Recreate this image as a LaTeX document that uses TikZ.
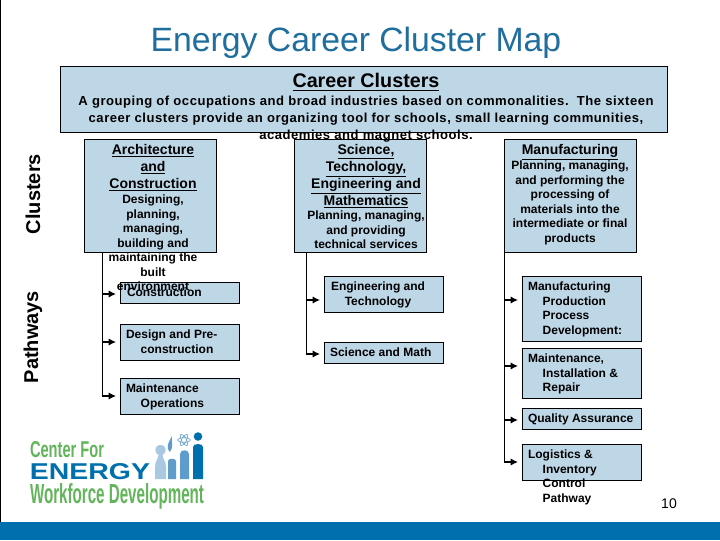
\documentclass[tikz,border=0pt]{standalone}
\usepackage{fontspec}
\usepackage{graphicx}
\setmainfont{Liberation Sans}
\newfontfamily\spacedfont[LetterSpace=4]{Liberation Sans}
\usetikzlibrary{arrows.meta}
\definecolor{boxblue}{HTML}{BDD7E7}
\definecolor{titleblue}{HTML}{1F6E9E}
\definecolor{bandblue}{HTML}{0070AD}
\definecolor{logogreen}{HTML}{62B55A}
\definecolor{logomid}{HTML}{5E9CCB}
\definecolor{logolight}{HTML}{A9C9E3}
\newcommand{\fbody}{\fontsize{9}{10.85}\selectfont\bfseries}
\newcommand{\fhead}{\fontsize{10.5}{12.75}\selectfont\bfseries}
\newcommand{\ind}{\hspace*{11pt}}
\tikzset{
  x=0.75pt,y=-0.75pt,
  bx/.style 2 args={draw=black,line width=0.75pt,fill=boxblue,inner sep=0pt,outer sep=0pt,minimum width=#1*0.75pt,minimum height=#2*0.75pt},
  txt/.style={inner sep=0pt,outer sep=0pt,text=black,font=\fbody},
  ctr/.style={txt,align=center,anchor=north},
  hdr/.style={txt,align=center,anchor=north,font=\fhead},
  lft/.style={txt,align=left,anchor=north west},
  trunk/.style={line width=0.75pt,draw=black},
  arr/.style={line width=1pt,draw=black,-{Latex[length=5.5pt,width=5.5pt]},shorten >=3pt},
  hl/.style={inner sep=0pt,outer sep=0pt,text=black}
}
\begin{document}
\begin{tikzpicture}
\useasboundingbox (0,0) rectangle (720,540);
\fill[white] (0,0) rectangle (720,540);
\fill[black] (0,0) rectangle (1,522);
\fill[bandblue] (0,522) rectangle (720,540);
% title
\node[hl,text=titleblue,font=\fontsize{25.3}{28}\selectfont] (title) at (356,42.5) {Energy Career Cluster Map};
% boxes
\node[bx={607}{66}] (top) at (363.5,99) {};
\node[bx={132}{113}] (arch) at (150.5,195.5) {};
\node[bx={132}{113}] (sci) at (360.5,195.5) {};
\node[bx={132}{113}] (manu) at (570.5,195.5) {};
\node[bx={119}{21}] (con) at (179.5,292.5) {};
\node[bx={119}{36}] (des) at (179.5,342) {};
\node[bx={119}{36}] (mai) at (179.5,396) {};
\node[bx={119}{36}] (eng) at (383.5,294) {};
\node[bx={119}{21}] (sm) at (383.5,352.5) {};
\node[bx={119}{65}] (mpp) at (581.5,308.5) {};
\node[bx={119}{50}] (mir) at (581.5,373) {};
\node[bx={119}{21}] (qa) at (581.5,418.5) {};
\node[bx={119}{36}] (log) at (581.5,462) {};
% connector anchors
\coordinate (a0) at (102,252);
\coordinate (a3) at (102,396);
\coordinate (s0) at (306,252);
\coordinate (s2) at (306,354);
\coordinate (m0) at (504.5,252);
\coordinate (m4) at (504.5,462);
\draw[trunk] (a0) -- (a3);
\draw[trunk] (s0) -- (s2);
\draw[trunk] (m0) -- (m4);
\coordinate (ac) at (101.5,294);
\coordinate (ad) at (101.5,342);
\coordinate (am) at (101.5,396);
\coordinate (se) at (305.5,300);
\coordinate (ss) at (305.5,354);
\coordinate (mp) at (504,300);
\coordinate (mi) at (503.5,366);
\coordinate (mq) at (503.5,420);
\coordinate (ml) at (503.5,462);
\draw[arr] (ac) -- (ac -| con.west);
\draw[arr] (ad) -- (ad -| des.west);
\draw[arr] (am) -- (am -| mai.west);
\draw[arr] (se) -- (se -| eng.west);
\draw[arr] (ss) -- (ss -| sm.west);
\draw[arr] (mp) -- (mp -| mpp.west);
\draw[arr] (mi) -- (mi -| mir.west);
\draw[arr] (mq) -- (mq -| qa.west);
\draw[arr] (ml) -- (ml -| log.west);
% top text
\node[hl,font=\fontsize{14.8}{17}\selectfont\bfseries] (toph) at (366,82) {\underline{Career Clusters}};
\node[ctr,font=\spacedfont\fontsize{9.8}{12.75}\selectfont\bfseries] (topt) at (366,96.5) {A grouping of occupations and broad industries based on commonalities.\ \ The sixteen\\career clusters provide an organizing tool for schools, small learning communities,\\academies and magnet schools.};
% cluster text
\node[hdr] (archh) at (153,144) {\underline{Architecture}\\\underline{and}\\\underline{Construction}};
\node[ctr] (archt) at (153,195) {Designing,\\planning,\\managing,\\building and\\maintaining the\\built\\environment};
\node[hdr] (scih) at (366,144) {\underline{Science,}\\\underline{Technology,}\\\underline{Engineering and}\\\underline{Mathematics}};
\node[ctr] (scit) at (366,211) {Planning, managing,\\and providing\\technical services};
\node[hdr] (manuh) at (570,144) {\underline{Manufacturing}};
\node[ctr] (manut) at (570,161) {Planning, managing,\\and performing the\\processing of\\materials into the\\intermediate or final\\products};
% pathway text
\node[lft] (cont) at (127,288) {Construction};
\node[lft] (dest) at (126,330) {Design and Pre-\\\ind construction};
\node[lft] (mait) at (126,384) {Maintenance\\\ind Operations};
\node[ctr] (engt) at (378,282) {Engineering and\\Technology};
\node[lft] (smt) at (330,348) {Science and Math};
\node[lft] (mppt) at (528,282) {Manufacturing\\\ind Production\\\ind Process\\\ind Development:};
\node[lft] (mirt) at (528,354) {Maintenance,\\\ind Installation \&\\\ind Repair};
\node[lft] (qat) at (528,414) {Quality Assurance};
\node[lft] (logt) at (528,450) {Logistics \&\\\ind Inventory\\\ind Control\\\ind Pathway};
% side labels
\node[hl,rotate=90,font=\fontsize{15}{18}\selectfont\bfseries] (clus) at (33,194) {Clusters};
\node[hl,rotate=90,font=\fontsize{15}{18}\selectfont\bfseries] (path) at (33,337) {Pathways};
\node[hl,font=\fontsize{10.5}{12}\selectfont] (pg) at (669,504) {10};
% logo
\node[hl,anchor=north west,text=logogreen] (l1) at (30,441.5) {\resizebox{55.5pt}{12pt}{\bfseries Center For}};
\node[hl,anchor=north west,text=bandblue] (l2) at (30,463) {\resizebox{90pt}{12pt}{\bfseries ENERGY}};
\node[hl,anchor=north west,text=logogreen] (l3) at (30,483) {\resizebox{130.5pt}{15pt}{\bfseries Workforce Development}};
\fill[logolight] (155,479) -- (155,467) .. controls (155,461) and (158,460) .. (158.5,455) .. controls (154,453) and (154,445) .. (160.5,445) .. controls (167,445) and (167,453) .. (162.5,455) .. controls (163,460) and (166,461) .. (166,467) -- (166,479) -- cycle;
\fill[logomid] (168,479) -- (168,461) .. controls (168,458) and (176,458) .. (176,461) -- (176,479) -- cycle;
\fill[logomid] (180,479) -- (180,454) .. controls (180,449) and (189,449) .. (189,454) -- (189,479) -- cycle;
\fill[bandblue] (193,479) -- (193,447) .. controls (193,443) and (203,443) .. (203,447) -- (203,479) -- cycle;
\fill[bandblue] (198,436.5) circle[radius=3.2pt];
\fill[logomid] (170,452) .. controls (165,447) and (169,442) .. (172,436) .. controls (171,441) and (174,447) .. (170,452) -- cycle;
\begin{scope}[shift={(184,440)},draw=logomid,line width=0.4pt]
\draw (0,0) ellipse[x radius=4.9pt,y radius=1.8pt];
\draw[rotate=60] (0,0) ellipse[x radius=4.9pt,y radius=1.8pt];
\draw[rotate=-60] (0,0) ellipse[x radius=4.9pt,y radius=1.8pt];
\end{scope}
\end{tikzpicture}
\end{document}
